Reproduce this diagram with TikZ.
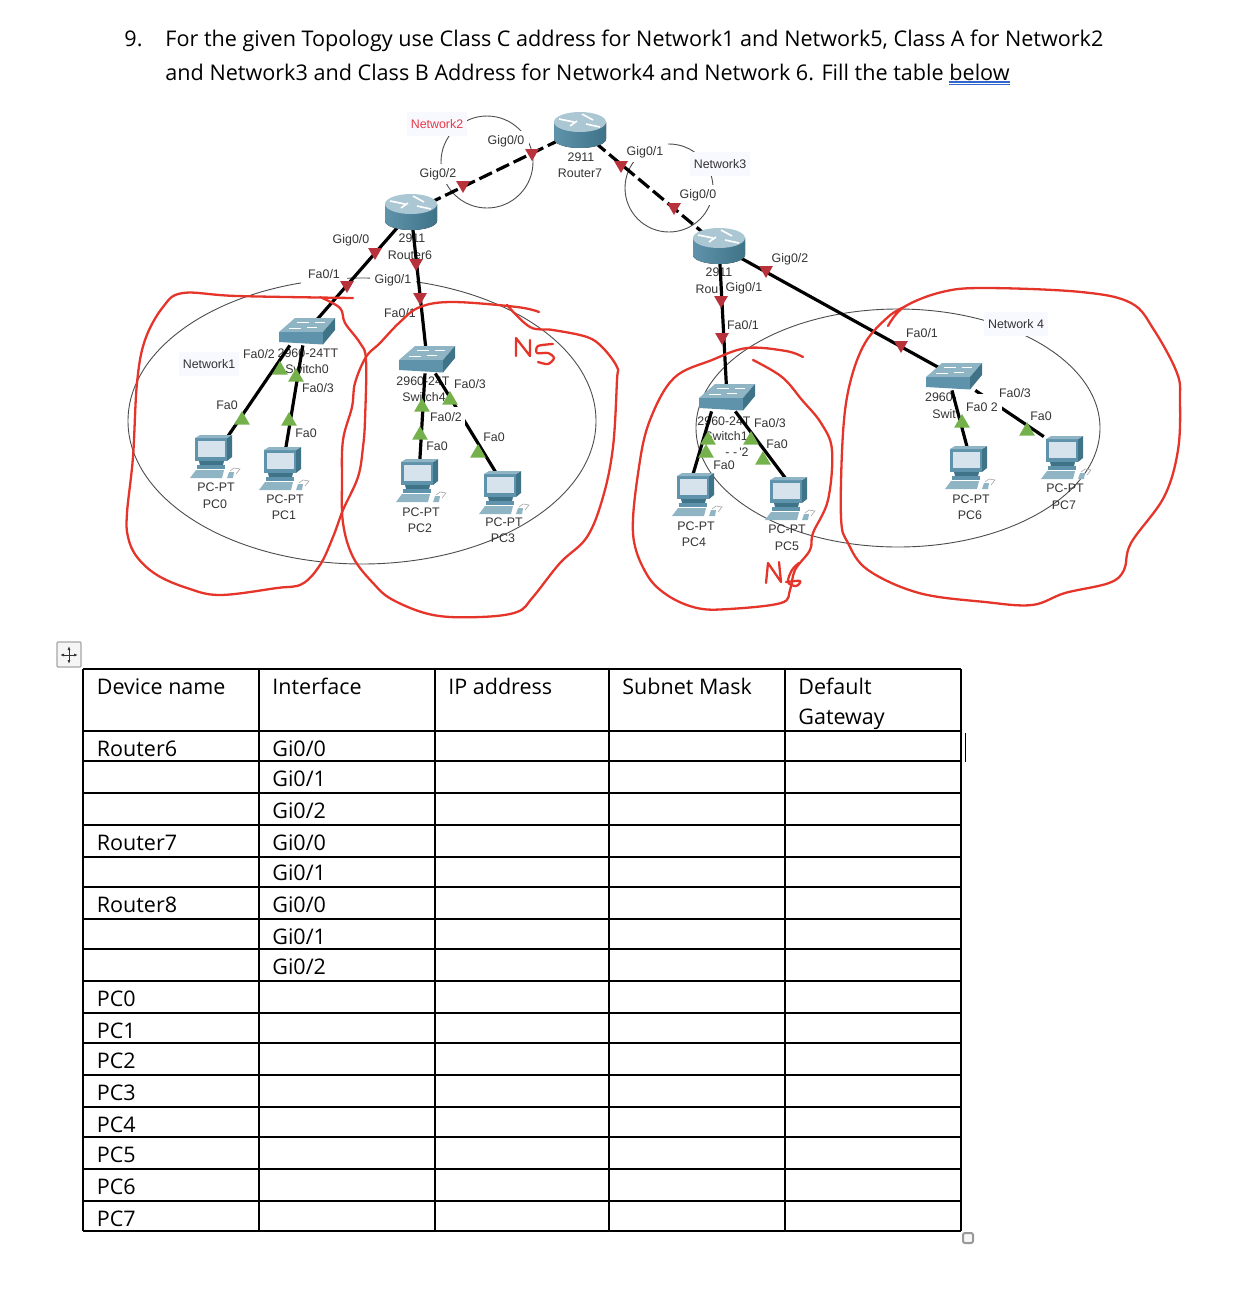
\documentclass[tikz,border=0pt]{standalone}
\usepackage{fontspec}
\setmainfont{Open Sans}
\newfontfamily\pktfont{Liberation Sans}
\usetikzlibrary{positioning, arrows.meta, shapes.geometric}
\definecolor{inkred}{HTML}{E5352B}
\definecolor{portred}{HTML}{B8323C}
\definecolor{portgreen}{HTML}{74B14A}
\definecolor{netred}{HTML}{E63946}
\definecolor{teal1}{HTML}{5F93AB}
\definecolor{teal2}{HTML}{3F7388}
\definecolor{teal3}{HTML}{8FB4C4}
\definecolor{screenc}{HTML}{D6E3EC}
\definecolor{netfill}{HTML}{F8F8FF}
\definecolor{wordblue}{HTML}{3366CC}

\begin{document}
\begin{tikzpicture}[
  x=0.5pt, y=-0.5pt,
  lab/.style={font=\pktfont\fontsize{6.2}{7.5}\selectfont, inner sep=0pt, text=black!80},
  masklab/.style={lab, fill=white, minimum height=10pt},
  netlab/.style={lab, fill=netfill, inner xsep=2pt, minimum height=12pt},
  cell/.style={anchor=base west, inner sep=0pt, font=\fontsize{10.75}{12}\selectfont},
  para/.style={anchor=base west, inner sep=0pt, font=\fontsize{10.8}{12}\selectfont},
  link/.style={line width=1.6pt, black},
  dashlink/.style={link, dash pattern=on 7pt off 2.5pt},
  netring/.style={line width=0.45pt, black!70},
  ink/.style={line width=1.15pt, inkred, line cap=round, line join=round},
  grid/.style={line width=0.85pt, black},
  routernode/.style={inner sep=0pt, minimum width=26pt, minimum height=17.5pt},
  switchnode/.style={inner sep=0pt, minimum width=28pt, minimum height=14pt},
  pcnode/.style={inner sep=0pt, minimum width=25pt, minimum height=21pt},
  redtri/.style={regular polygon, regular polygon sides=3, shape border rotate=180, fill=portred, inner sep=0pt, minimum size=8pt},
  greentri/.style={regular polygon, regular polygon sides=3, fill=portgreen, inner sep=0pt, minimum size=9pt},
  routericon/.pic={
    \fill[left color=teal1, middle color=white!75!teal3, right color=teal2]
      (-26,-8) -- (-26,9) arc[start angle=180, end angle=0, x radius=26, y radius=9] -- (26,-8) -- cycle;
    \fill[teal3!75!white] (0,-8) ellipse [x radius=26, y radius=10];
    \draw[white, line width=0.8pt] (-21,-11) -- (-6,-8) (2,-16) -- (13,-10) (-10,-4) -- (-3,-9) (6,-6) -- (20,-3);
  },
  switchicon/.pic={
    \fill[teal3] (-28,1) -- (-12,-13) -- (28,-13) -- (16,1) -- cycle;
    \fill[teal1] (-28,1) -- (16,1) -- (16,13.5) -- (-28,11) -- cycle;
    \fill[teal2] (16,1) -- (28,-13) -- (28,-1) -- (16,13.5) -- cycle;
    \draw[white, line width=0.35pt] (-10,-9) -- (2,-9) (8,-9) -- (18,-9) (-18,-3) -- (-6,-3) (0,-4) -- (10,-4);
  },
  pcicon/.pic={
    \fill[teal1] (-20,-19) rectangle (12,4);
    \fill[screenc] (-17,-16) rectangle (10,0);
    \fill[teal2] (12,-19) -- (17,-22) -- (17,0) -- (12,4) -- cycle;
    \fill[teal3] (-20,-19) -- (-15,-22) -- (17,-22) -- (12,-19) -- cycle;
    \fill[teal2] (-16,4) -- (9,4) -- (8,8) -- (-15,8) -- cycle;
    \fill[teal1] (-18,8) rectangle (10,12);
    \fill[teal3] (-25,21) -- (-19,13) -- (9,13) -- (7,21) -- cycle;
    \fill[teal3] (12,21) -- (14,15) -- (19,15) -- (18,21) -- cycle;
    \draw[black!35, line width=0.3pt] (15,14) -- (19,11) -- (25,12) -- (21,17);
  }
]
\useasboundingbox (0,0) rectangle (1234,1308);

\node[para] (qnum) at (124,46) {9.};
\node[para] (qone) at (165,46) {For the given Topology use Class C address for Network1 and Network5, Class A for Network2};
\node[para] (qtwo) at (165,80) {and Network3 and Class B Address for Network4 and Network 6. Fill the table};
\node[para] (belowword) at (949,80) {below};
\draw[wordblue, line width=0.6pt] ([yshift=-1pt]belowword.base west) -- ([yshift=-1pt]belowword.base east);
\draw[wordblue, line width=0.6pt] ([yshift=-2.4pt]belowword.base west) -- ([yshift=-2.4pt]belowword.base east);

\draw[netring] (362,421) ellipse [x radius=234, y radius=143];
\draw[netring] (487,162) circle [radius=46];
\draw[netring] (669,188) circle [radius=44];
\draw[netring] (898,428) ellipse [x radius=202, y radius=119];

\foreach \x/\y/\t [count=\i] in {
  506/141/{Gig0/0}, 438/174/{Gig0/2}, 645/152/{Gig0/1}, 698/195/{Gig0/0},
  324/274/{Fa0/1}, 393/280/{Gig0/1}} {
  \node[masklab, minimum width=23pt] (mask\i) at (\x,\y) {\t};
}
\node[netlab, text=netred] (net2) at (437,124) {Network2};
\node[netlab] (net1) at (209,364) {Network1};
\node[netlab] (net3) at (720,164) {Network3};
\node[netlab] (net4) at (1016,324) {Network 4};

\foreach \x/\y/\t [count=\i] in {
  581/157/2911, 580/173/Router7, 351/240/{Gig0/0}, 412/238/2911, 410/255/Router6,
  400/313/{Fa0/1}, 719/272/2911, 707/289/Rou, 744/288/{Gig0/1}, 790/259/{Gig0/2},
  743/325/{Fa0/1}, 922/333/{Fa0/1}, 259/354/{Fa0/2}, 308/353/2960-24TT, 307/369/Switch0,
  318/388/{Fa0/3}, 227/405/Fa0, 306/433/Fa0, 216/487/PC-PT, 215/504/PC0,
  285/499/PC-PT, 284/515/PC1, 423/381/2960-24T, 424/397/Switch4, 470/384/{Fa0/3},
  437/446/Fa0, 494/437/Fa0, 421/512/PC-PT, 420/528/PC2, 504/522/PC-PT, 503/538/PC3,
  724/421/2960-24T, 726/436/Switch1, 770/423/{Fa0/3}, 777/444/Fa0,
  696/526/PC-PT, 694/542/PC4, 787/529/PC-PT, 787/546/PC5,
  941/397/2960-, 944/414/Swit, 1041/416/Fa0,
  971/499/PC-PT, 970/515/PC6, 1065/488/PC-PT, 1064/505/PC7} {
  \node[lab] (lbl\i) at (\x,\y) {\t};
}

\foreach \n/\x/\y in {router6/411/212, router7/580/130, router8/719/246}
  \node[routernode] (\n) at (\x,\y) {};
\foreach \n/\x/\y in {switch0/307/331, switch4/427/359, switch1/727/397, switch3/954/376}
  \node[switchnode] (\n) at (\x,\y) {};
\foreach \n/\x/\y in {pc0/215/457, pc1/284/469, pc2/421/481, pc3/504/493, pc4/697/495, pc5/790/499, pc6/970/468, pc7/1066/458}
  \node[pcnode] (\n) at (\x,\y) {};

\draw[dashlink] (router6.center) -- (router7.center);
\draw[dashlink] (router7.center) -- (router8.center);
\draw[link] (router6.center) -- (switch0.center);
\draw[link] (router6.center) -- (switch4.center);
\draw[link] (router8.center) -- (switch1.center);
\draw[link] (router8.center) -- (switch3.center);
\draw[link] (switch0.220) -- (pc0.58);
\draw[link] (switch0.254) -- (pc1.85);
\draw[link] (switch4.262) -- (pc2.93);
\draw[link] (switch4.300) -- (pc3.112);
\draw[link] (switch1.223) -- (pc4.100);
\draw[link] (switch1.300) -- (pc5.103);
\draw[link] (switch3.262) -- (pc6.98);
\draw[link] (switch3.326) -- (pc7.136);

\node[masklab, minimum width=19pt] (maskfive) at (446,417) {Fa0/2};
\node[lab, fill=white] (masksix) at (737,452) {- -\,'2};
\node[lab] (lblfa) at (724,465) {Fa0};
\node[masklab, minimum width=20pt, minimum height=13pt] (maskseven) at (982,407) {Fa0 2};
\node[lab] (lblfathree) at (1015,393) {Fa0/3};

\foreach \x/\y [count=\i] in {463/185, 532/153, 621/165, 674/207, 375/252, 347/285,
  416/263, 420/297, 721/300, 722/337, 766/270, 901/345}
  \node[redtri] (rt\i) at (\x,\y) {};
\foreach \x/\y [count=\i] in {280/370, 296/377, 242/420, 289/421, 422/407, 450/400,
  420/435, 478/453, 708/440, 706/453, 751/440, 763/460, 962/423, 1027/431}
  \node[greentri] (gt\i) at (\x,\y) {};

\foreach \n in {router6,router7,router8} \pic at (\n) {routericon};
\foreach \n in {switch0,switch4,switch1,switch3} \pic at (\n) {switchicon};
\foreach \n in {pc0,pc1,pc2,pc3,pc4,pc5,pc6,pc7} \pic at (\n) {pcicon};

\draw[ink] plot[smooth, tension=0.6] coordinates {(353,298) (237,296) (183,293) (163,307) (145,340) (137,383) (133,457) (127,513) (128,537) (137,557) (157,575) (187,588) (220,595) (277,588) (302,584) (320,565) (333,537) (343,510) (358,477) (363,447) (365,420) (366,360) (360,343) (345,323) (340,308) (320,297)};
\draw[ink] plot[smooth, tension=0.6] coordinates {(539,312) (517,307) (453,302) (420,307) (400,322) (380,343) (366,357) (355,383) (352,407) (343,440) (342,480) (343,523) (353,557) (373,583) (393,600) (433,615) (480,617) (517,612) (533,597) (560,563) (587,537) (603,497) (613,447) (617,380) (617,367) (603,348) (587,337) (553,330) (530,327) (507,305)};
\draw[ink] plot[smooth, tension=0.6] coordinates {(803,357) (786,351) (747,348) (712,360) (674,378) (650,420) (639,467) (633,533) (646,573) (667,595) (697,608) (729,609) (781,603) (790,590) (795,570) (810,550) (813,533) (828,500) (832,450) (821,423) (802,400) (782,377) (753,360)};
\draw[ink] plot[smooth, tension=0.6] coordinates {(888,326) (904,307) (942,292) (985,288) (1081,292) (1131,303) (1154,330) (1177,373) (1180,400) (1178,450) (1164,497) (1131,543) (1124,570) (1109,583) (1065,593) (1032,605) (985,602) (919,593) (868,570) (848,543) (841,517) (843,433) (850,383) (865,343) (888,317) (904,307)};
\draw[ink] (516,356) -- (516,338) -- (530,356) -- (530,340);
\draw[ink] plot[smooth, tension=0.5] coordinates {(553,344) (538,346) (537,353) (548,353) (554,358) (548,364) (538,362)};
\draw[ink] (766,583) -- (768,563) -- (781,582) -- (779,562);
\draw[ink] plot[smooth, tension=0.6] coordinates {(799,563) (792,570) (788,582) (796,586) (800,581) (786,582)};

\foreach \y in {669,731,761,793,825,857,887,919,949,981,1013,1043,1075,1107,1137,1169,1201,1231}
  \draw[grid] (83,\y) -- (961,\y);
\foreach \x in {83,259,435,609,785,961}
  \draw[grid] (\x,669) -- (\x,1231);
\foreach \x/\y/\t [count=\i] in {
  96.5/694/Device name, 272/694/Interface, 448/694/IP address, 622/694/Subnet Mask,
  798/694/Default, 798/724/Gateway, 96.5/756/Router6, 272/756/{Gi0/0}, 272/786/{Gi0/1},
  272/818/{Gi0/2}, 96.5/850/Router7, 272/850/{Gi0/0}, 272/880/{Gi0/1}, 96.5/912/Router8,
  272/912/{Gi0/0}, 272/944/{Gi0/1}, 272/974/{Gi0/2}, 96.5/1006/PC0, 96.5/1038/PC1, 96.5/1068/PC2,
  96.5/1100/PC3, 96.5/1132/PC4, 96.5/1162/PC5, 96.5/1194/PC6, 96.5/1226/PC7} {
  \node[cell] (cell\i) at (\x,\y) {\t};
}

\draw[black!35, fill=black!4, line width=0.6pt, rounded corners=0.5pt] (57,642) rectangle (81,667);
\draw[{Latex[length=2pt]}-{Latex[length=2pt]}, black!80, line width=0.5pt] (60,655) -- (78,655);
\draw[{Latex[length=2pt]}-{Latex[length=2pt]}, black!80, line width=0.5pt] (69,646) -- (69,664);
\draw[black, line width=0.5pt] (965,733) -- (965,762);
\draw[black!40, fill=black!3, line width=1pt, rounded corners=1pt] (963,1233) rectangle (973,1243);
\end{tikzpicture}
\end{document}
